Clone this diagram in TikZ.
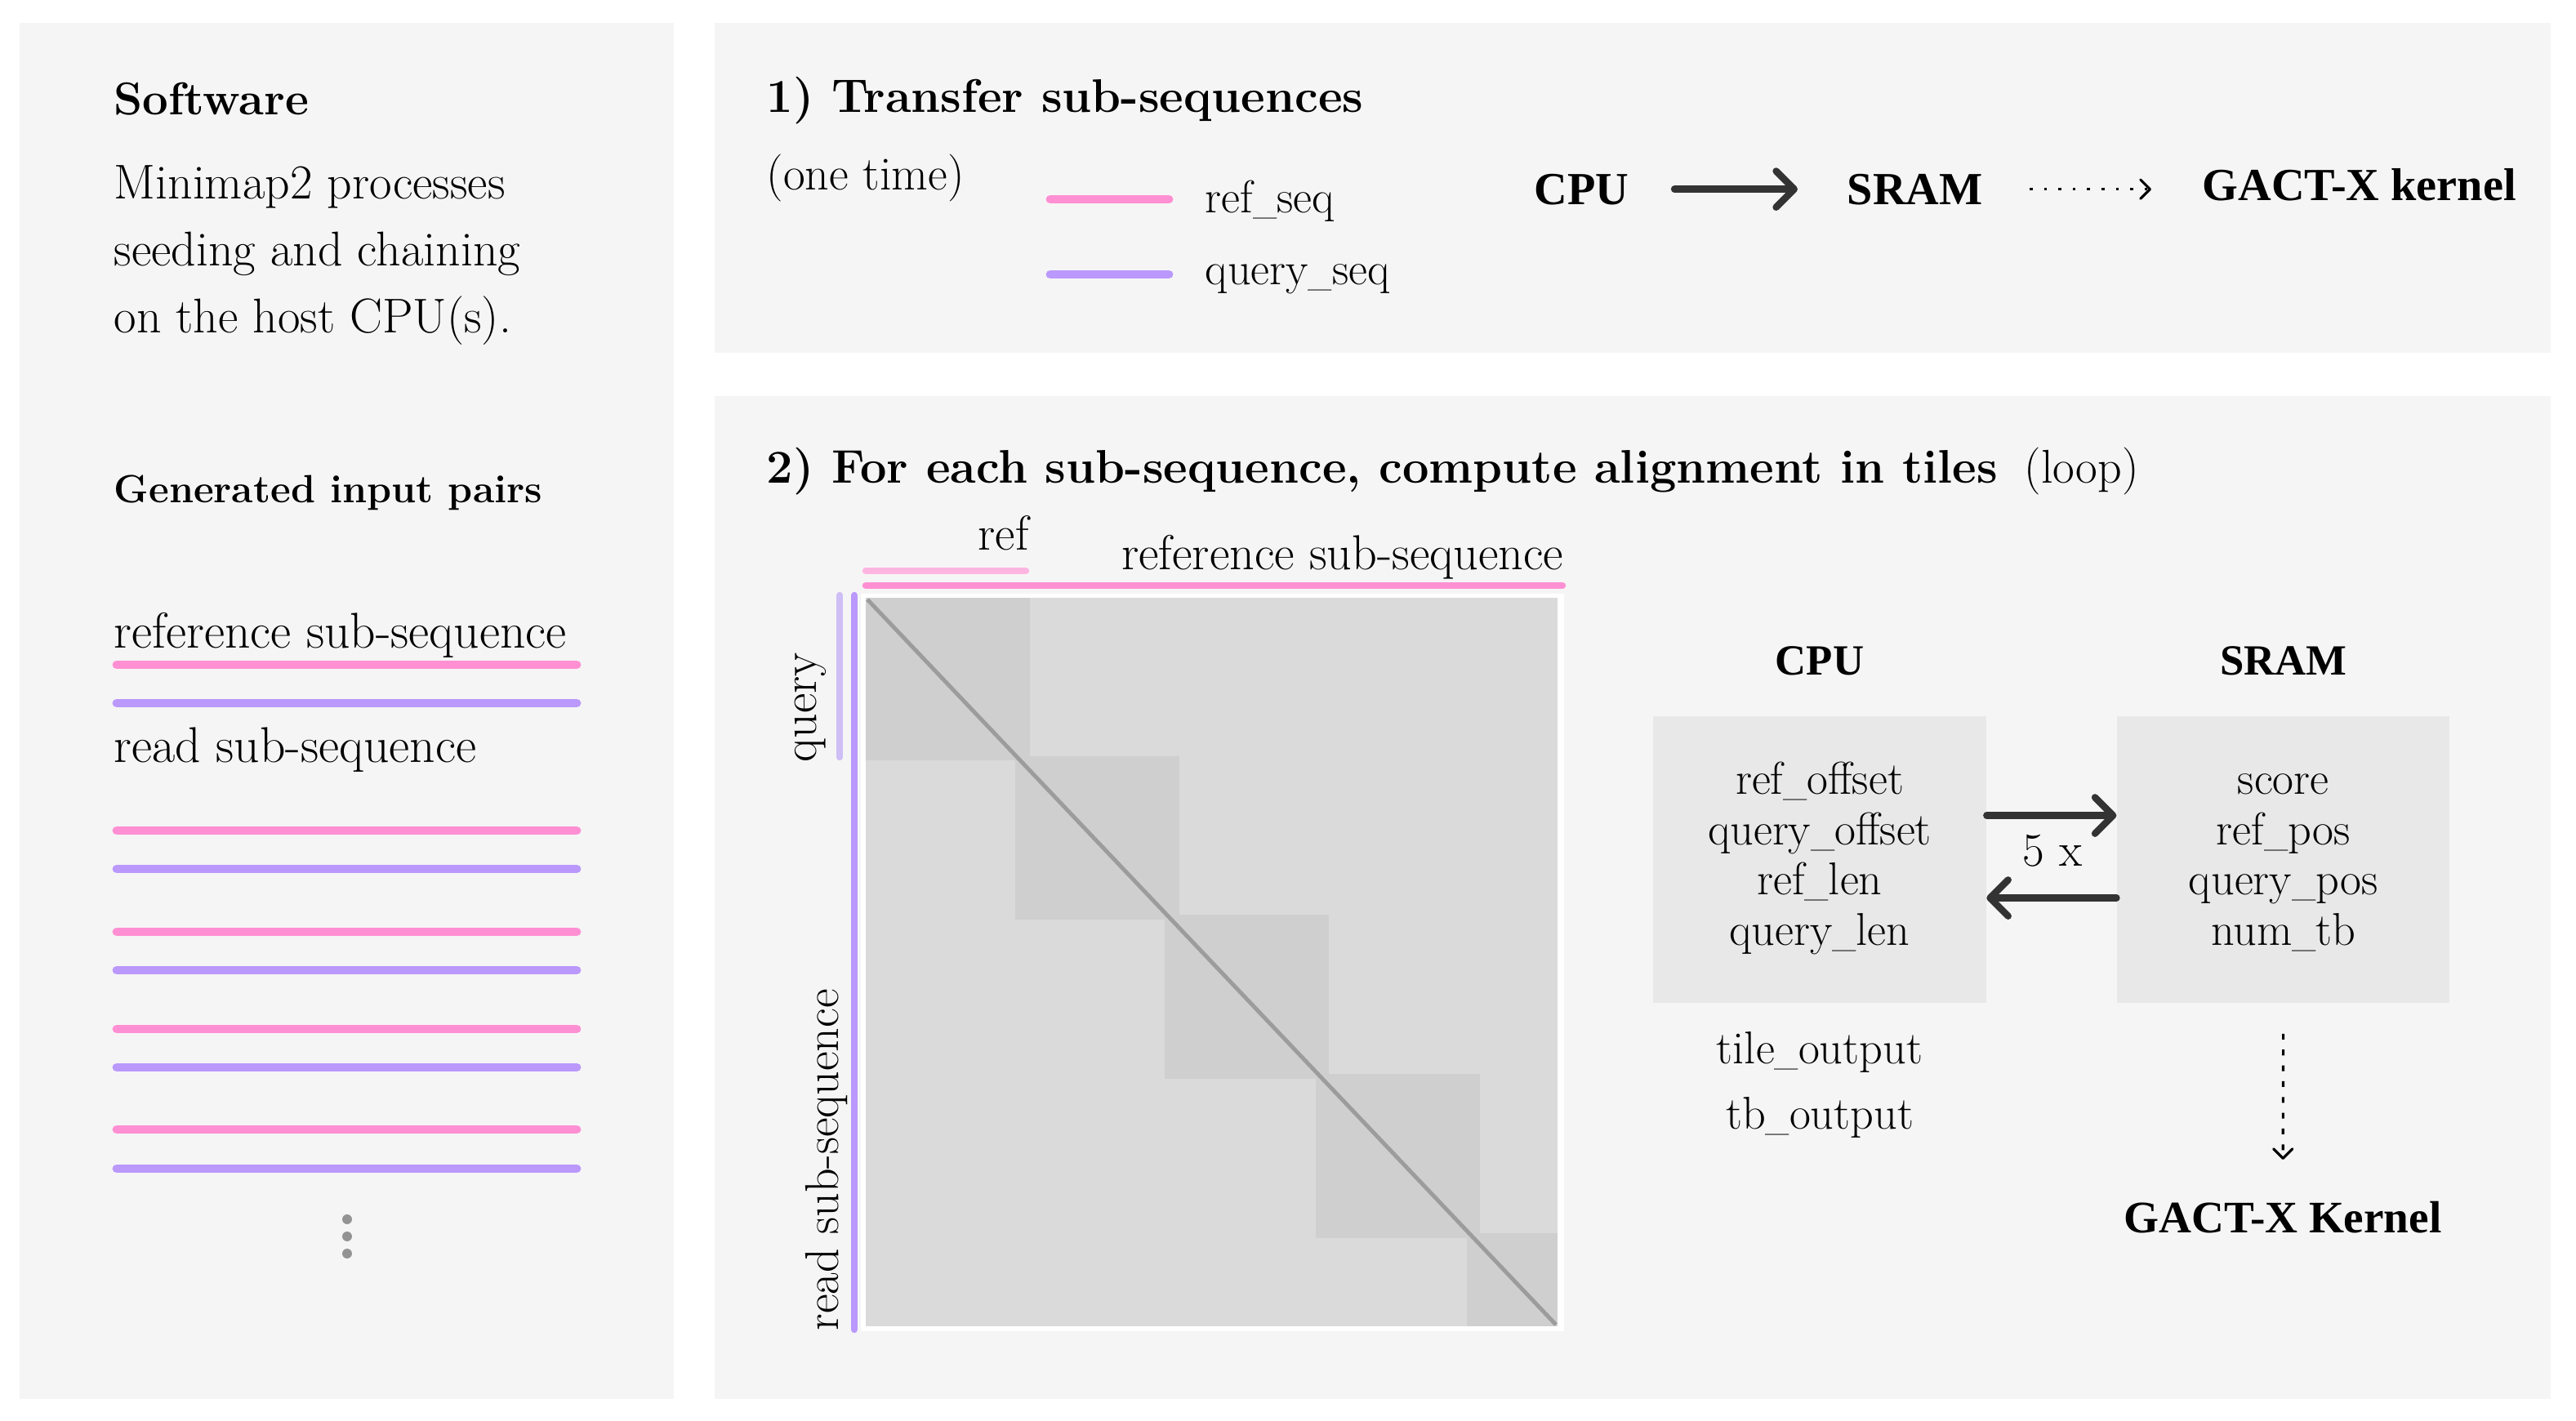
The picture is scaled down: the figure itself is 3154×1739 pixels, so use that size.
\documentclass[tikz,border=0pt]{standalone}
\usepackage{fontspec}
\usepackage{graphicx}
\usetikzlibrary{arrows.meta}
\usetikzlibrary{positioning}
\definecolor{panelgray}{HTML}{F5F5F5}
\definecolor{matgray}{HTML}{DADADA}
\definecolor{tilegray}{HTML}{CFCFCF}
\definecolor{diaggray}{HTML}{9C9C9C}
\definecolor{boxgray}{HTML}{E8E8E8}
\definecolor{refpink}{HTML}{FF8FD3}
\definecolor{refpinklight}{HTML}{FFB5E2}
\definecolor{qpurple}{HTML}{BA98FC}
\definecolor{qpurplelight}{HTML}{CDBEF6}
\definecolor{arrowdark}{HTML}{333333}
\definecolor{dotgray}{HTML}{939393}
\newfontfamily\hwfamily{Liberation Serif}
\def\bodyfont{\fontsize{17}{20}\selectfont}
\def\varfont{\fontsize{16}{17.6}\selectfont}
\def\titlefont{\bfseries\fontsize{16.4}{19}\selectfont}
\def\hwfont{\hwfamily\bfseries\fontsize{16}{19}\selectfont}
\def\us{\scalebox{0.75}[1]{\_}}

\begin{document}
\begin{tikzpicture}[x=0.01cm,y=-0.01cm,>={Straight Barb[round]},
		txt/.style={inner sep=0pt,anchor=base west,font=\bodyfont},
		ctxt/.style={inner sep=0pt,anchor=base,font=\bodyfont},
		head/.style={inner sep=0pt,anchor=base west,font=\titlefont},
		hw/.style={inner sep=0pt,anchor=base west,font=\hwfont},
		hwc/.style={inner sep=0pt,anchor=base,font=\hwfont},
		box/.style={fill=boxgray,minimum width=4.07cm,minimum height=3.51cm,
			inner sep=0pt,font=\varfont,align=center},
		refline/.style={refpink,line width=3.1pt,line cap=round},
		qline/.style={qpurple,line width=3.1pt,line cap=round},
		bigarrow/.style={->,arrowdark,line width=2.4pt,line cap=round},
		dotarrow/.style={->,black,line width=0.9pt,dash pattern=on 1pt off 4pt}]
		
		\useasboundingbox[fill=white] (0,0) rectangle (3154,1739);
		\fill[panelgray] (24,28) rectangle (825,1713);
		\fill[panelgray] (875,28) rectangle (3123,432);
		\fill[panelgray] (875,485) rectangle (3123,1713);
		
		% software side
		\node[head] (soft) at (139,140) {\fontsize{16}{19}\selectfont Software};
		\node[txt] (mm1) at (139,243) {Minimap2 processes};
		\node[txt] (mm2) at (139,325) {seeding and chaining};
		\node[txt] (mm3) at (139,407) {on the host CPU(s).};
		\node[head] (pairs) at (139,615) {\fontsize{13.7}{17}\selectfont Generated input pairs};
		\node[txt] (refsub) at (139,793) {\fontsize{17.5}{20}\selectfont reference sub-sequence};
		\node[txt] (readsub) at (139,933) {\fontsize{17.5}{20}\selectfont read sub-sequence};
		\draw[refline] (143,814) -- (706,814);
		\draw[qline] (143,861) -- (706,861);
		\draw[refline] (143,1017) -- (706,1017);
		\draw[qline] (143,1064) -- (706,1064);
		\draw[refline] (143,1141) -- (706,1141);
		\draw[qline] (143,1188) -- (706,1188);
		\draw[refline] (143,1260) -- (706,1260);
		\draw[qline] (143,1307) -- (706,1307);
		\draw[refline] (143,1383) -- (706,1383);
		\draw[qline] (143,1431) -- (706,1431);
		\fill[dotgray] (425,1493) circle (1.7pt);
		\fill[dotgray] (425,1514) circle (1.7pt);
		\fill[dotgray] (425,1535) circle (1.7pt);
		
		% step 1
		\node[head] (step1) at (938,137) {1) Transfer sub-sequences};
		\node[txt] (once) at (938,232) {\fontsize{16.5}{20}\selectfont (one time)};
		\draw[refline] (1286,244) -- (1431,244);
		\node[txt] (refseq) at (1475,260) {\varfont ref\us seq};
		\draw[qline] (1286,336) -- (1431,336);
		\node[txt] (qseq) at (1475,348) {\varfont query\us seq};
		\node[hw] (cpu1) at (1878,250) {CPU};
		\node[hw] (sram1) at (2261,250) {SRAM};
		\node[hw] (gact1) at (2696,245) {GACT-X kernel};
		\draw[bigarrow,shorten <=0.55cm,shorten >=0.6cm] (cpu1) -- (sram1);
		\draw[dotarrow,shorten <=0.57cm,shorten >=0.62cm] (sram1.east) -- (sram1.east -| gact1.west);
		
		% step 2
		\node[head] (step2) at (938,591) {2) For each sub-sequence, compute alignment in tiles};
		\node[txt] (loop) at (2478,591) {\fontsize{16.5}{20}\selectfont (loop)};
		
		\fill[white] (1054,727) rectangle (1915,1630);
		\fill[matgray] (1060,732) rectangle (1907,1624);
		\fill[tilegray] (1060,732) rectangle (1261,931);
		\fill[tilegray] (1243,926) rectangle (1444,1126);
		\fill[tilegray] (1426,1120) rectangle (1627,1321);
		\fill[tilegray] (1611,1315) rectangle (1812,1516);
		\fill[tilegray] (1796,1510) rectangle (1907,1624);
		\draw[diaggray,line width=1.4pt] (1062,734) -- (1905,1622);
		
		\draw[refline,refpinklight,line width=2.4pt] (1060,699) -- (1256,699);
		\draw[refline,line width=2.4pt] (1060,717) -- (1913,717);
		\node[txt] (reftile) at (1197,673) {ref};
		\node[txt,anchor=base east] (refsub2) at (1915,697) {\fontsize{17.1}{20}\selectfont reference sub-sequence};
		\draw[qline,qpurplelight,line width=2.4pt] (1028,729) -- (1028,927);
		\draw[qline,line width=2.4pt] (1046,729) -- (1046,1628);
		\node[txt,rotate=90] (qtile) at (999,934) {query};
		\node[txt,rotate=90] (readsub2) at (1026,1630) {\fontsize{16.5}{20}\selectfont read sub-sequence};
		
		\node[hwc] (cpu2) at (2228,826) {\fontsize{15}{18}\selectfont CPU};
		\node[box] (cpubox) [below=0.49cm of cpu2] {\strut ref\us offset\\\strut query\us offset\\\strut ref\us len\\\strut query\us len};
		\node[box] (srambox) [right=1.59cm of cpubox] {\strut score\\\strut ref\us pos\\\strut query\us pos\\\strut num\us tb};
		\node[hwc] (sram2) [above=0.49cm of srambox] {\fontsize{15}{18}\selectfont SRAM};
		\draw[bigarrow] ([yshift=0.54cm]cpubox.east) -- ([yshift=0.54cm]srambox.west);
		\draw[bigarrow] ([yshift=-0.47cm]srambox.west) -- ([yshift=-0.47cm]cpubox.east);
		\node[ctxt] (five) at (2513,1060) {\fontsize{16.5}{20}\selectfont 5 x};
		\node[ctxt] (tileout) at (2228,1302) {\varfont tile\us output};
		\node[ctxt] (tbout) at (2228,1382) {\varfont tb\us output};
		\node[hwc] (gact2) at (2795,1509) {\fontsize{15.7}{18}\selectfont GACT-X Kernel};
		\draw[dotarrow,dash pattern=on 2pt off 3.5pt,shorten <=0.37cm,shorten >=0.5cm] (srambox.south) -- (gact2.north);
\end{tikzpicture}
\end{document}
